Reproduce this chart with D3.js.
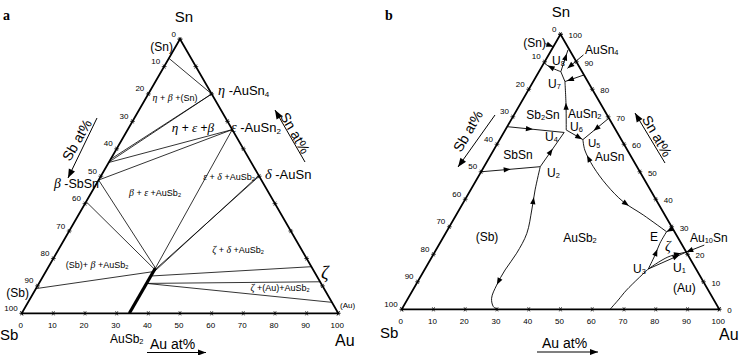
<!DOCTYPE html>
<html>
<head>
<meta charset="utf-8">
<script src="https://cdn.jsdelivr.net/npm/d3@7"></script>
<style>
body { margin: 0; background: #fff; }
svg { display: block; }
</style>
</head>
<body>
<div id="chart"></div>
<script>
// all compositions are [Au at%, Sn at%], Sb is the remainder
var tickValues = [0, 10, 20, 30, 40, 50, 60, 70, 80, 90, 100];

// panel a: isothermal section, tie lines of the three phase triangles
var auSb2Range = [[34, 0], [34, 16.5]];
var tieLinesA = [
	[[0, 93], [20, 80]],
	[[0, 55.2], [20, 80]],
	[[0, 56.2], [20, 80]],
	[[0, 55], [33, 67]],
	[[0, 48.6], [33, 67]],
	[[34, 16.5], [33, 67]],
	[[0, 48.6], [34, 16.5]],
	[[0, 40.7], [34, 16]],
	[[0, 9], [34, 15.2]],
	[[34, 15.6], [50, 50]],
	[[34, 14.6], [49.6, 50]],
	[[34, 13.6], [83, 17]],
	[[34, 10.9], [88.5, 11.5]],
	[[34, 10.9], [96, 4]]
];

// panel b: liquidus projection, monovariant curves (arrows: [fraction, direction])
var curvesB = [
	{pts: [[6.9, 86.4], [2.6, 88.1], [0, 89.6]], arrows: [[0.6, 1]]},
	{pts: [[6.9, 86.4], [5.2, 94.3]], arrows: [[0.7, 1]]},
	{pts: [[6.9, 86.4], [10.0, 82.8]], arrows: []},
	{pts: [[14.8, 85.2], [10.0, 82.8]], arrows: [[0.75, 1]]},
	{pts: [[10.0, 82.8], [14.8, 73.9], [19.2, 65.2]], arrows: [[0.5, -1]]},
	{pts: [[0, 66.4], [19.0, 64.3]], arrows: [[0.4, 1]]},
	{pts: [[17.7, 51.85], [19.0, 64.3]], arrows: [[0.45, 1]]},
	{pts: [[0, 50], [17.7, 51.85]], arrows: [[0.45, 1]]},
	{pts: [[19.2, 65.2], [26.2, 61.7]], arrows: [[0.8, 1]]},
	{pts: [[30.5, 69.5], [26.2, 61.7]], arrows: [[0.5, 1]]},
	{pts: [[26.2, 61.7], [28.7, 57.9], [34.4, 51.85], [41.95, 45.2], [50.2, 39.1], [58.9, 34.3], [69.3, 28.2]],
		arrows: [[0.15, -1], [0.62, 1]]},
	{pts: [[70.6, 29.4], [69.3, 28.2]], arrows: [[1, 1]]},
	{pts: [[69.3, 28.2], [69.3, 24], [69.9, 19.75], [70.3, 14.65]], arrows: [[0.55, -1]]},
	{pts: [[70.3, 14.65], [67.3, 7.0], [66.5, 3.4], [65.6, 0]], arrows: []},
	{pts: [[70.3, 14.65], [79.2, 20.8]], arrows: [[0.75, 1]]},
	{pts: [[70.3, 14.65], [74.3, 19], [79.2, 20.8]], arrows: [[0.8, 1]]},
	{pts: [[17.7, 51.85], [20.3, 43.4], [22.9, 36.1], [25.6, 27.6], [26.0, 20.4], [25.4, 14.3],
		[25.5, 8.8], [26.3, 4.0], [28.4, 0.95], [30.1, 0]], arrows: [[0.22, -1], [0.8, 1]]}
];

var W = 739, H = 355;
var svg = d3.select("#chart").append("svg")
	.attr("width", W)
	.attr("height", H)
	.attr("font-family", "'Liberation Sans', Arial, sans-serif");

function ternary(x0, y0, len) {
	var sx = d3.scaleLinear().domain([0, 100]).range([x0, x0 + len]);
	var sy = d3.scaleLinear().domain([0, 100]).range([y0, y0 - len * Math.sqrt(3) / 2]);
	return function(c) { return [sx(c[0] + c[1] / 2), sy(c[1])]; };
}
var pa = ternary(21.7, 313.3, 316.6);
var pb = ternary(401.7, 309.3, 317.6);

// text with italic greek letters and _subscripts
function label(g, x, y, str, size, anchor) {
	var t = g.append("text")
		.attr("x", x).attr("y", y)
		.attr("font-size", size)
		.attr("text-anchor", anchor || "start");
	var re = /_(\d+)|([ηεβδζ])|([^_ηεβδζ]+)/g, m, shift = 0;
	while ((m = re.exec(str))) {
		var s = t.append("tspan"), want = 0;
		if (m[1]) {
			s.text(m[1]).attr("font-size", size * 0.62);
			want = size * 0.12;
		} else if (m[2]) {
			s.text(m[2])
				.attr("font-family", "'Liberation Serif', serif")
				.attr("font-style", "italic")
				.attr("font-size", size * 1.1);
		} else {
			s.text(m[3]);
		}
		if (want !== shift) { s.attr("dy", want - shift); shift = want; }
	}
	return t;
}

function arrowHead(g, tip, angle, size) {
	g.append("path")
		.attr("d", "M0,0L" + (-size) + "," + (-size * 0.38) + "L" + (-size) + "," + (size * 0.38) + "Z")
		.attr("transform", "translate(" + tip[0] + "," + tip[1] + ") rotate(" + angle + ")")
		.attr("fill", "#000");
}

function arrowLine(g, a, b, size, width) {
	g.append("line")
		.attr("x1", a[0]).attr("y1", a[1]).attr("x2", b[0]).attr("y2", b[1])
		.attr("stroke", "#000").attr("stroke-width", width || 1);
	arrowHead(g, b, Math.atan2(b[1] - a[1], b[0] - a[0]) * 180 / Math.PI, size);
}

function frame(g, p, rightLabels) {
	g.append("path")
		.attr("d", d3.line()([p([0, 0]), p([100, 0]), p([0, 100])]) + "Z")
		.attr("fill", "none")
		.attr("stroke", "#000")
		.attr("stroke-width", 1.8)
		.attr("stroke-linejoin", "miter");

	var ticks = g.append("g").attr("stroke", "#000").attr("stroke-width", 0.7);
	var r = 2.4, c = 0.5, s = 0.866;
	function cross(pt, d1, d2) {
		[d1, d2].forEach(function(d) {
			ticks.append("line")
				.attr("x1", pt[0] - d[0] * r).attr("y1", pt[1] - d[1] * r)
				.attr("x2", pt[0] + d[0] * r).attr("y2", pt[1] + d[1] * r);
		});
	}
	var tl = g.append("g").attr("font-size", 8);
	tickValues.forEach(function(v) {
		var b = p([v, 0]), l = p([0, 100 - v]), rt = p([100 - v, v]);
		cross(b, [c, -s], [-c, -s]);
		cross(l, [1, 0], [c, s]);
		cross(rt, [1, 0], [c, -s]);
		tl.append("text").attr("x", b[0] - 1).attr("y", b[1] + 15)
			.attr("text-anchor", "middle").text(v);
		tl.append("text").attr("x", l[0] - 4).attr("y", l[1] - 2.5)
			.attr("text-anchor", "end").text(v);
		if (rightLabels) {
			tl.append("text").attr("x", rt[0] + 8).attr("y", rt[1] + 4).text(v);
		}
	});
}

var line = d3.line();
var curve = d3.line().curve(d3.curveCatmullRom.alpha(0.5));

// ---------- panel a ----------
var ga = svg.append("g");
frame(ga, pa, false);

ga.append("g").selectAll("path")
	.data(tieLinesA)
	.enter().append("path")
	.attr("d", function(d) { return line(d.map(pa)); })
	.attr("fill", "none")
	.attr("stroke", "#000")
	.attr("stroke-width", 0.8);

ga.append("path")
	.attr("d", line(auSb2Range.map(pa)))
	.attr("stroke", "#000")
	.attr("stroke-width", 3.2);

label(ga, 3, 20, "a", 14).attr("font-family", "'Liberation Serif', serif").attr("font-weight", "bold");
label(ga, 184, 22, "Sn", 15, "middle");
label(ga, 0, 340, "Sb", 15);
label(ga, 335, 346, "Au", 16);
label(ga, 110, 343, "AuSb_2", 12);
label(ga, 150, 349, "Au at%", 14);
arrowLine(ga, [147, 352.5], [206, 352.5], 8, 1.2);

label(ga, 173, 51, "(Sn)", 12, "end");
label(ga, 218, 95, "η -AuSn_4", 13);
label(ga, 231, 132, "ε -AuSn_2", 13);
label(ga, 265, 179, "δ -AuSn", 13);
label(ga, 99, 188, "β -SbSn", 12.5, "end");
label(ga, 29, 297, "(Sb)", 12, "end");
label(ga, 321, 279, "ζ", 17);
label(ga, 340, 308, "(Au)", 8);

label(ga, 175, 101, "η + β +(Sn)", 9, "middle");
label(ga, 193, 132, "η + ε +β", 12, "middle");
label(ga, 229, 180, "ε + δ +AuSb_2", 9, "middle");
label(ga, 155, 196, "β + ε +AuSb_2", 9, "middle");
label(ga, 97, 268, "(Sb)+ β +AuSb_2", 9, "middle");
label(ga, 238, 253, "ζ + δ +AuSb_2", 9, "middle");
label(ga, 280, 291, "ζ +(Au)+AuSb_2", 9, "middle");

label(ga, 0, 0, "Sb at%", 14, "middle")
	.attr("dy", "0.35em")
	.attr("transform", "translate(77,140) rotate(-60)");
arrowLine(ga, [97, 118], [68, 178], 9, 1);
label(ga, 0, 0, "Sn at%", 14, "middle")
	.attr("dy", "0.35em")
	.attr("transform", "translate(295,133) rotate(60)");
arrowLine(ga, [305, 162], [275, 110], 9, 1);

// ---------- panel b ----------
var gb = svg.append("g");
frame(gb, pb, true);

var cg = gb.append("g");
curvesB.forEach(function(c) {
	var path = cg.append("path")
		.attr("d", (c.pts.length > 2 ? curve : line)(c.pts.map(pb)))
		.attr("fill", "none")
		.attr("stroke", "#000")
		.attr("stroke-width", 0.9);
	var node = path.node(), len = node.getTotalLength();
	c.arrows.forEach(function(a) {
		var l = Math.max(1.5, Math.min(len - 1.5, a[0] * len));
		var p0 = node.getPointAtLength(l - 1.5), p1 = node.getPointAtLength(l + 1.5);
		var ang = Math.atan2(p1.y - p0.y, p1.x - p0.x) * 180 / Math.PI + (a[1] < 0 ? 180 : 0);
		var tipL = Math.max(0, Math.min(len, l + a[1] * 3));
		var tip = node.getPointAtLength(tipL);
		arrowHead(cg, [tip.x, tip.y], ang, 7);
	});
});

// pointer arrows of the labels
function pointer(g, comp, off) {
	var e = pb(comp);
	arrowLine(g, [e[0] + off[0], e[1] + off[1]], e, 7, 0.9);
}
pointer(gb, [0, 95.5], [-8, -3]);
pointer(gb, [8.4, 87.6], [16, -13.5]);
pointer(gb, [79.2, 20.8], [18, -7]);

label(gb, 385, 20, "b", 14).attr("font-family", "'Liberation Serif', serif").attr("font-weight", "bold");
label(gb, 561, 17, "Sn", 15, "middle");
label(gb, 380, 338, "Sb", 15);
label(gb, 719, 340, "Au", 16);
label(gb, 542, 348, "Au at%", 14);
arrowLine(gb, [537, 352], [598, 352], 8, 1.2);

label(gb, 546, 47, "(Sn)", 12, "end");
label(gb, 585, 54, "AuSn_4", 12);
label(gb, 552, 65, "U_8", 12);
label(gb, 548, 88, "U_7", 12);
label(gb, 543, 119, "Sb_2Sn", 12, "middle");
label(gb, 568, 118, "AuSn_2", 12);
label(gb, 570, 131, "U_6", 12);
label(gb, 545, 141, "U_4", 12);
label(gb, 588, 146.5, "U_5", 11.5);
label(gb, 595, 161, "AuSn", 12);
label(gb, 518, 159, "SbSn", 12, "middle");
label(gb, 547, 177, "U_2", 12);
label(gb, 487, 241, "(Sb)", 12, "middle");
label(gb, 580, 242, "AuSb_2", 12, "middle");
label(gb, 650, 241, "E", 12);
label(gb, 668, 251, "ζ", 13, "middle");
label(gb, 690, 242, "Au_10Sn", 12);
label(gb, 633, 273, "U_3", 12);
label(gb, 673, 272, "U_1", 12);
label(gb, 673, 292, "(Au)", 12);

label(gb, 0, 0, "Sb at%", 14, "middle")
	.attr("dy", "0.35em")
	.attr("transform", "translate(468,131) rotate(-60)");
arrowLine(gb, [495, 115], [458, 167], 9, 1);
label(gb, 0, 0, "Sn at%", 14, "middle")
	.attr("dy", "0.35em")
	.attr("transform", "translate(657,136) rotate(60)");
arrowLine(gb, [665, 163], [635, 113], 9, 1);
</script>
</body>
</html>
